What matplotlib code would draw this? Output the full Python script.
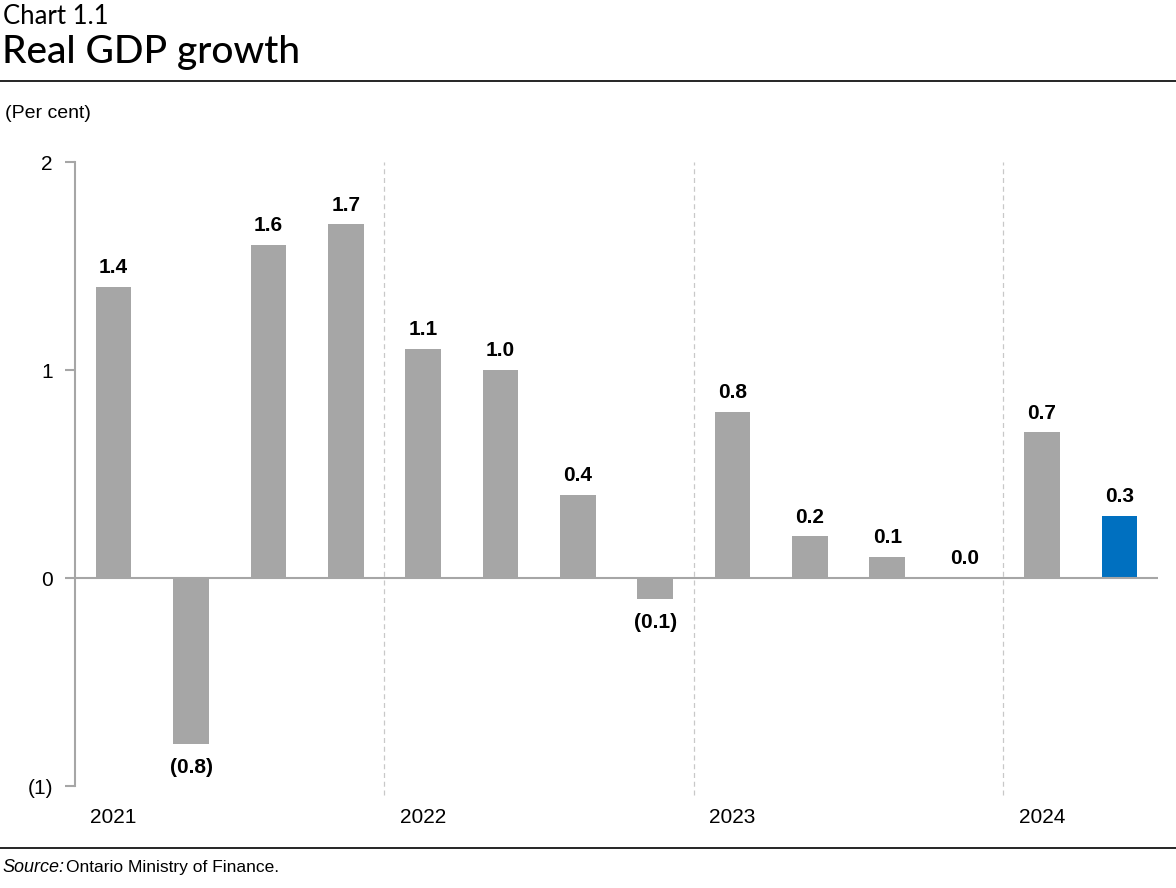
import numpy as np
import matplotlib.pyplot as plt

# quarterly real GDP growth, per cent
quarters = ['2021Q1', '2021Q2', '2021Q3', '2021Q4',
            '2022Q1', '2022Q2', '2022Q3', '2022Q4',
            '2023Q1', '2023Q2', '2023Q3', '2023Q4',
            '2024Q1', '2024Q2']
growth = [1.4, -0.8, 1.6, 1.7, 1.1, 1.0, 0.4, -0.1, 0.8, 0.2, 0.1, 0.0, 0.7, 0.3]
years = ['2021', '2022', '2023', '2024']
yticks = [-1, 0, 1, 2]
ytick_labels = ['(1)', '0', '1', '2']

gray = '#A6A6A6'
blue = '#0070C0'
font = 'Liberation Sans'

fig = plt.figure(figsize=(11.76, 8.88), dpi=100)
W, H = 1176, 888

# axes box in pixels: left 75, right 1158, top 162, bottom 786
ax = fig.add_axes([75 / W, 1 - 786 / H, (1158 - 75) / W, (786 - 162) / H])

x = np.arange(len(growth))
colors = [gray] * (len(growth) - 1) + [blue]
ax.bar(x, growth, width=0.46, color=colors, zorder=3)

ax.set_xlim(-0.5, len(growth) - 0.5)
ax.set_ylim(-1, 2)
ax.axhline(0, color=gray, lw=1.5, zorder=4)

# dashed year separators
for i in range(1, len(years)):
    ax.axvline(4 * i - 0.5, ymin=-0.015, ymax=1, color='#C8C8C8', lw=0.9,
               ls=(0, (4, 3)), zorder=1, clip_on=False)

# value labels
for xi, v in zip(x, growth):
    txt = f'{v:.1f}' if v >= 0 else f'({abs(v):.1f})'
    if v >= 0:
        ax.annotate(txt, (xi, v), xytext=(0, 7), textcoords='offset points',
                    ha='center', va='bottom', fontsize=15, fontweight='bold',
                    family=font)
    else:
        ax.annotate(txt, (xi, v), xytext=(0, -10), textcoords='offset points',
                    ha='center', va='top', fontsize=15, fontweight='bold',
                    family=font)

ax.set_xticks([])
ax.set_yticks(yticks)
ax.set_yticklabels(ytick_labels, family=font, fontsize=15)
ax.tick_params(axis='y', length=7, width=1.5, color=gray, pad=9)
for s in ['top', 'right', 'bottom']:
    ax.spines[s].set_visible(False)
ax.spines['left'].set_color(gray)
ax.spines['left'].set_linewidth(1.5)

# year labels under the first bar of each year
for i, yr in enumerate(years):
    ax.text(4 * i, -1.15, yr, ha='center', va='center', fontsize=15,
            family=font, transform=ax.transData)

# titles and frame lines
fig.text(3 / W, 1 - 17 / H, 'Chart 1.1', fontsize=18.5, family='Lato',
         ha='left', va='center')
fig.text(2 / W, 1 - 52 / H, 'Real GDP growth', fontsize=28, family='Lato',
         fontweight='medium', ha='left', va='center')
fig.add_artist(plt.Line2D([0, 1], [1 - 81 / H, 1 - 81 / H], color='black', lw=1.2))
fig.text(5 / W, 1 - 113 / H, '(Per cent)', fontsize=14, family=font,
         ha='left', va='center')
fig.add_artist(plt.Line2D([0, 1], [1 - 848 / H, 1 - 848 / H], color='black', lw=1.2))
fig.text(2 / W, 1 - 867 / H, 'Source:', fontsize=13, family=font,
         style='italic', ha='left', va='center')
fig.text(66 / W, 1 - 867 / H, 'Ontario Ministry of Finance.', fontsize=12.5,
         family=font, ha='left', va='center')

fig.savefig('out.png', dpi=100)
